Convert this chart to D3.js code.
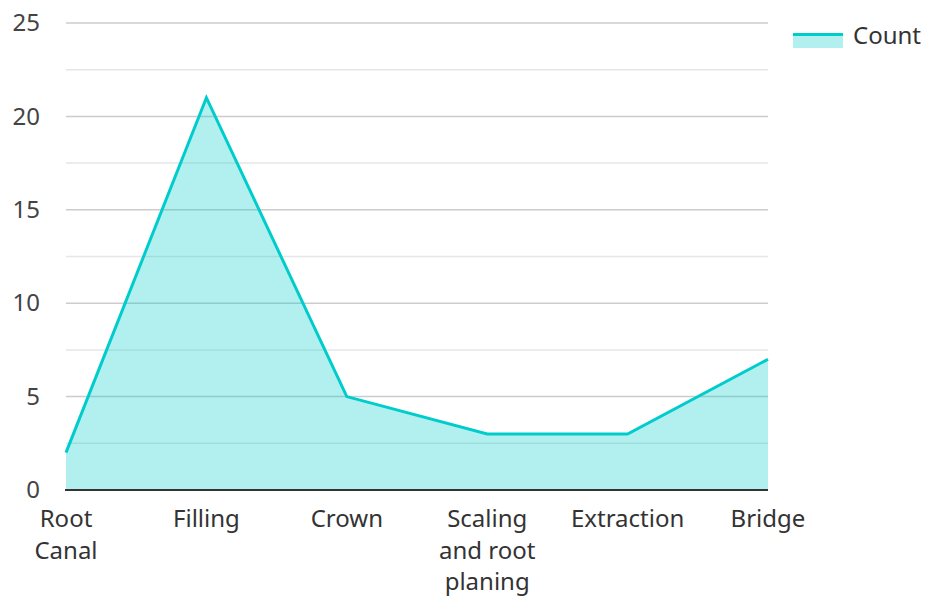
<!DOCTYPE html>
<html>
<head>
<meta charset="utf-8">
<script src="https://cdn.jsdelivr.net/npm/d3@7"></script>
<style>
  body { margin: 0; background: #fff; }
  text { font-family: "Noto Sans", "Open Sans", sans-serif; }
</style>
</head>
<body>
<svg id="chart" width="926" height="597"></svg>
<script>
const categories = ["Root Canal", "Filling", "Crown", "Scaling and root planing", "Extraction", "Bridge"];
const counts = [2, 21, 5, 3, 3, 7];
const yTicks = [0, 5, 10, 15, 20, 25];
const yMinorTicks = [2.5, 7.5, 12.5, 17.5, 22.5];
const seriesName = "Count";

const svg = d3.select("#chart"),
    margin = {top: 23, right: 158, bottom: 107, left: 66},
    width = 926 - margin.left - margin.right,
    height = 597 - margin.top - margin.bottom;

const lineColor = "#00cccc";

const x = d3.scalePoint().domain(categories).range([0, width]);
const y = d3.scaleLinear().domain([0, 25]).range([height, 0]);

const g = svg.append("g").attr("transform", `translate(${margin.left},${margin.top})`);

// minor gridlines
g.append("g").selectAll("line")
    .data(yMinorTicks)
    .join("line")
    .attr("x1", 0).attr("x2", width)
    .attr("y1", d => y(d)).attr("y2", d => y(d))
    .attr("stroke", "#e6e6e6")
    .attr("stroke-width", 1.5);

// major gridlines
g.append("g").selectAll("line")
    .data(yTicks.filter(d => d > 0))
    .join("line")
    .attr("x1", 0).attr("x2", width)
    .attr("y1", d => y(d)).attr("y2", d => y(d))
    .attr("stroke", "#cccccc")
    .attr("stroke-width", 1.5);

const data = categories.map((c, i) => ({c, v: counts[i]}));

g.append("path")
    .datum(data)
    .attr("fill", lineColor)
    .attr("fill-opacity", 0.3)
    .attr("d", d3.area().x(d => x(d.c)).y0(y(0)).y1(d => y(d.v)));

g.append("path")
    .datum(data)
    .attr("fill", "none")
    .attr("stroke", lineColor)
    .attr("stroke-width", 3)
    .attr("stroke-linejoin", "miter")
    .attr("d", d3.line().x(d => x(d.c)).y(d => y(d.v)));

// baseline
g.append("line")
    .attr("x1", -1).attr("x2", width)
    .attr("y1", y(0)).attr("y2", y(0))
    .attr("stroke", "#333")
    .attr("stroke-width", 2);

// y axis labels
const yAxis = g.append("g")
    .call(d3.axisLeft(y).tickValues(yTicks).tickSize(0).tickPadding(26))
    .call(a => a.select(".domain").remove());
yAxis.selectAll("text")
    .attr("fill", "#444")
    .style("font-size", "24px")
    .style("font-family", "'Noto Sans', 'Open Sans', sans-serif");

// x axis labels, wrapped
const wrapWidth = 110;
const xLabels = g.append("g").attr("transform", `translate(0,${height})`)
    .selectAll("text")
    .data(categories)
    .join("text")
    .attr("x", d => x(d))
    .attr("y", 37)
    .attr("text-anchor", "middle")
    .attr("fill", "#333")
    .style("font-size", "24px")
    .text(d => d);

xLabels.each(function(d) {
    const text = d3.select(this),
        words = d.split(/\s+/).reverse(),
        cx = text.attr("x");
    let word, line = [];
    let tspan = text.text(null).append("tspan").attr("x", cx).attr("dy", 0);
    while ((word = words.pop())) {
        line.push(word);
        tspan.text(line.join(" "));
        if (tspan.node().getComputedTextLength() > wrapWidth && line.length > 1) {
            line.pop();
            tspan.text(line.join(" "));
            line = [word];
            tspan = text.append("tspan").attr("x", cx).attr("dy", 31.5).text(word);
        }
    }
});

// legend
const legend = svg.append("g").attr("transform", "translate(793,33)");
legend.append("rect")
    .attr("x", 0).attr("y", 0)
    .attr("width", 50).attr("height", 15)
    .attr("fill", lineColor)
    .attr("fill-opacity", 0.3);
legend.append("line")
    .attr("x1", 0).attr("x2", 50)
    .attr("y1", 1.5).attr("y2", 1.5)
    .attr("stroke", lineColor)
    .attr("stroke-width", 3);
legend.append("text")
    .attr("x", 60).attr("y", 1)
    .attr("dominant-baseline", "central")
    .attr("fill", "#333")
    .style("font-size", "24px")
    .text(seriesName);
</script>
</body>
</html>
